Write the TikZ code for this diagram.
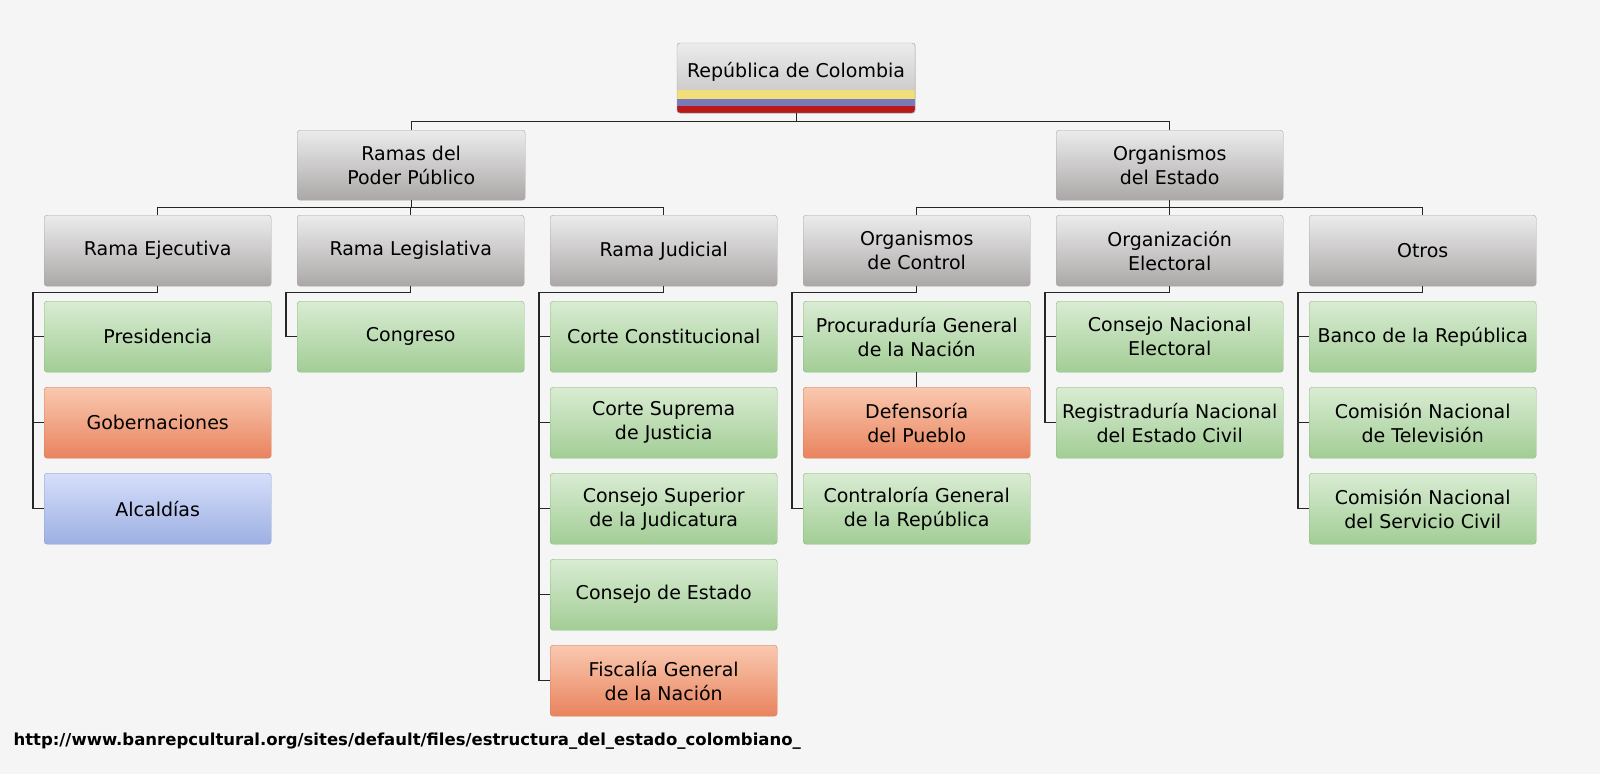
\documentclass[tikz,border=0pt]{standalone}
\usepackage{fontspec}
\setmainfont{DejaVu Sans}
\begin{document}
\begin{tikzpicture}[x=1pt,y=-1pt,
 box/.style={rounded corners=3pt,minimum width=227pt,minimum height=71pt,align=center,font=\fontsize{19}{24}\selectfont,inner sep=0pt,anchor=north west},
 ln/.style={line width=1.3pt,black!85}]
\definecolor{gtop}{HTML}{ECECEC}\definecolor{gbot}{HTML}{ABA7A7}
\definecolor{ntop}{HTML}{D9ECD3}\definecolor{nbot}{HTML}{A2CD95}\definecolor{nbd}{HTML}{88B77C}
\definecolor{otop}{HTML}{F9C9B0}\definecolor{obot}{HTML}{E9835E}\definecolor{obd}{HTML}{D77A58}
\definecolor{btop}{HTML}{D6DEFA}\definecolor{bbot}{HTML}{9DB0E2}\definecolor{bbd}{HTML}{8A9ECF}
\tikzset{gbox/.style={box,top color=gtop,bottom color=gbot,draw=gray!70},
 grn/.style={box,top color=ntop,bottom color=nbot,draw=nbd},
 org/.style={box,top color=otop,bottom color=obot,draw=obd},
 blu/.style={box,top color=btop,bottom color=bbot,draw=bbd}}
\fill[white!96!black] (0,0) rectangle (1600,774);
\useasboundingbox (0,0) rectangle (1600,774);
\begin{pgfinterruptboundingbox}
% top
\node[gbox,minimum width=238pt,minimum height=70pt] (rep) at (677,43) {};
\begin{scope}
\clip[rounded corners=3pt] (677,43) rectangle (915,113);
\shade[top color=gtop,bottom color=gbot!60] (677,43) rectangle (915,92);
\fill[yellow!60!brown!60!white] (677,90) rectangle (915,99);
\fill[blue!30!gray!80] (677,99) rectangle (915,106);
\fill[red!70!black!90] (677,106) rectangle (915,113);
\end{scope}
\draw[gray!70,rounded corners=3pt] (677,43) rectangle (915,113);
\node[font=\fontsize{19}{24}\selectfont] at (796,72) {República de Colombia};
\node[gbox,minimum width=228pt,minimum height=70pt] (ramas) at (297,130) {Ramas del\\Poder Público};
\node[gbox,minimum width=227pt,minimum height=70pt] (orgs) at (1056,130) {Organismos\\del Estado};
% gray row
\node[gbox] (ej) at (44,215) {Rama Ejecutiva};
\node[gbox] (leg) at (297,215) {Rama Legislativa};
\node[gbox] (jud) at (550,215) {Rama Judicial};
\node[gbox] (ctl) at (803,215) {Organismos\\de Control};
\node[gbox] (ele) at (1056,215) {Organización\\Electoral};
\node[gbox] (otr) at (1309,215) {Otros};
% children
\node[grn] (pre) at (44,301) {Presidencia};
\node[org] (gob) at (44,387) {Gobernaciones};
\node[blu] (alc) at (44,473) {Alcaldías};
\node[grn] (con) at (297,301) {Congreso};
\node[grn] (cc) at (550,301) {Corte Constitucional};
\node[grn] (csj) at (550,387) {Corte Suprema\\de Justicia};
\node[grn] (cs) at (550,473) {Consejo Superior\\de la Judicatura};
\node[grn] (ce) at (550,559) {Consejo de Estado};
\node[org] (fis) at (550,645) {Fiscalía General\\de la Nación};
\node[grn] (pro) at (803,301) {Procuraduría General\\de la Nación};
\node[org] (def) at (803,387) {Defensoría\\del Pueblo};
\node[grn] (cgr) at (803,473) {Contraloría General\\de la República};
\node[grn] (cne) at (1056,301) {Consejo Nacional\\Electoral};
\node[grn] (reg) at (1056,387) {Registraduría Nacional\\del Estado Civil};
\node[grn] (ban) at (1309,301) {Banco de la República};
\node[grn] (cntv) at (1309,387) {Comisión Nacional\\de Televisión};
\node[grn] (cnsc) at (1309,473) {Comisión Nacional\\del Servicio Civil};
% connectors
\draw[ln] (rep.south) -- ++(0,8) -| (ramas.north);
\draw[ln] (rep.south) ++(0,8) -| (orgs.north);
\foreach \p/\a/\b in {ramas/ej/jud,orgs/ctl/otr}{
 \draw[ln] (\p.south) ++(0,7) coordinate (m) (\a.north) |- (m) -| (\b.north);
 \draw[ln] (\p.south) -- (m);}
\draw[ln] (ramas.south) ++(0,7) -| (leg.north);
\draw[ln] (orgs.south) ++(0,7) -| (ele.north);
\foreach \p/\l in {ej/alc,leg/con,jud/fis,ctl/cgr,ele/reg,otr/cnsc}{
 \draw[ln] (\p.south) -- ++(0,6) -| ([xshift=-11pt]\l.west) -- (\l.west);}
\foreach \c in {pre,gob,cc,csj,cs,ce,pro,cne,ban,cntv}
 \draw[ln] ([xshift=-11pt]\c.west) -- (\c.west);
\draw[ln] (pro.south) -- (def.north);
\node[anchor=west,font=\bfseries\fontsize{16.5}{20}\selectfont] (url) at (10,741) {http://www.banrepcultural.org/sites/default/files/estructura\_del\_estado\_colombiano\_};
\end{pgfinterruptboundingbox}
\end{tikzpicture}
\end{document}
